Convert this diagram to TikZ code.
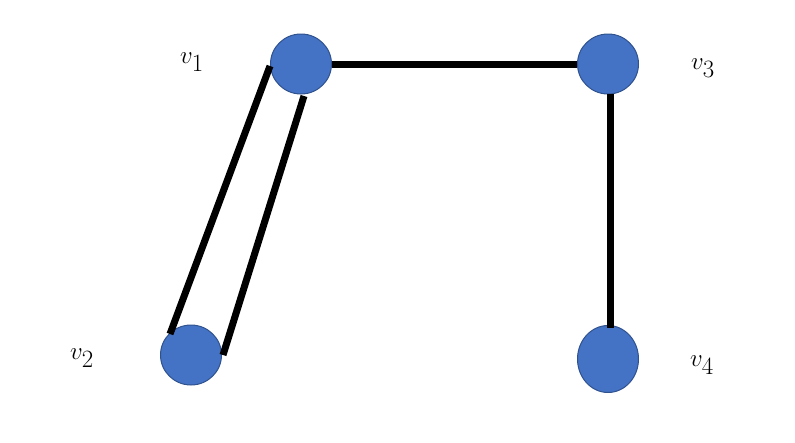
\documentclass[tikz,border=0pt]{standalone}
\usetikzlibrary{shapes.geometric}
\begin{document}
\begin{tikzpicture}[x=1pt,y=-1pt,
  vtx/.style={ellipse,fill={rgb,255:red,68;green,114;blue,196},draw={rgb,255:red,47;green,82;blue,143},line width=1pt,minimum width=61pt,minimum height=60pt,inner sep=0pt},
  edge/.style={line width=7pt},
  lab/.style={font=\fontsize{44}{44}\selectfont}]
\useasboundingbox (0,0) rectangle (795,442);
\node[vtx] (v1) at (301,64) {};
\node[vtx] (v3) at (608,64) {};
\node[vtx] (v2) at (191,355) {};
\node[vtx,minimum height=67pt] (v4) at (608,359) {};
\node[lab] (l1) at (192,62) {$v_1$};
\node[lab] (l3) at (703,68) {$v_3$};
\node[lab] (l2) at (82,358) {$v_2$};
\node[lab] (l4) at (702,365) {$v_4$};
\coordinate (a1) at (270,66);
\coordinate (a2) at (170,334);
\coordinate (b1) at (304,96);
\coordinate (b2) at (223,355);
\coordinate (c1) at (610,94);
\coordinate (c2) at (610,328);
\draw[edge] (v1.east) -- (v3.west);
\draw[edge] (c1) -- (c2);
\draw[edge] (a1) -- (a2);
\draw[edge] (b1) -- (b2);
\end{tikzpicture}
\end{document}
